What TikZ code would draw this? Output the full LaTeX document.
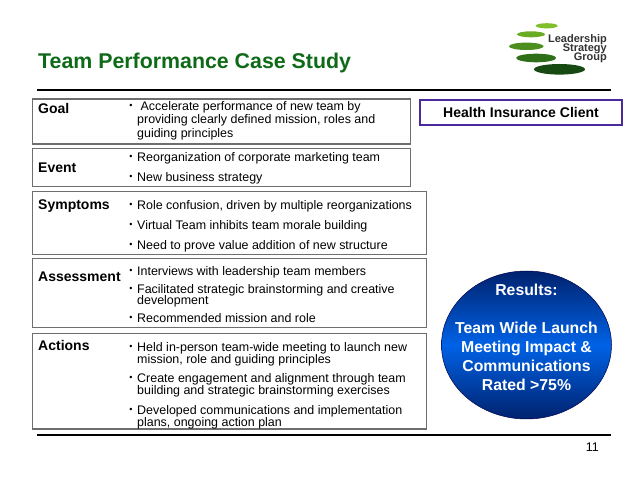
\documentclass[tikz,border=0pt]{standalone}
\usepackage{fontspec}
\setmainfont{Liberation Sans}
\usepackage{tikz}
\usetikzlibrary{positioning,shapes.geometric}
\definecolor{titlegreen}{HTML}{0F6A18}
\definecolor{panelgray}{HTML}{6E6E6E}
\definecolor{clientpurple}{HTML}{4A2A9C}
\definecolor{leafone}{HTML}{7FBF2A}
\definecolor{leaftwo}{HTML}{6AAB24}
\definecolor{leafthree}{HTML}{4C8F1E}
\definecolor{leaffour}{HTML}{2F6F18}
\definecolor{leaffive}{HTML}{174A12}
\definecolor{ovaldark}{HTML}{00226E}
\definecolor{ovalbright}{HTML}{0062E6}
\newcommand{\bul}{\llap{\raisebox{2.2pt}{\fontsize{9}{9}\selectfont\textbullet}\hspace{4.6pt}}}

\begin{document}
\begin{tikzpicture}[x=1pt, y=-1pt,
  panel/.style={draw=panelgray, line width=1.1pt, anchor=north west, inner sep=0pt},
  rulebar/.style={line width=2.7pt},
  heading/.style={anchor=base west, inner sep=0pt, font=\fontsize{14}{16}\selectfont\bfseries},
  itemtext/.style={anchor=base west, inner sep=0pt, align=left, font=\fontsize{12.45}{#1}\selectfont},
  itemtext/.default=13.3,
  leaf/.style={ellipse, inner sep=0pt, fill=#1}]
  \useasboundingbox (0,0) rectangle (638,478);

  \node (title) [anchor=base west, inner sep=0pt, text=titlegreen, font=\fontsize{21.35}{24}\selectfont\bfseries] at (38,68.5) {Team Performance Case Study};

  % logo
  \node (leafa) [leaf=leafone, minimum width=22pt, minimum height=5.2pt] at (546.7,25.8) {};
  \node (leafb) [leaf=leaftwo, minimum width=28pt, minimum height=6pt] at (531,34.3) {};
  \node (leafc) [leaf=leafthree, minimum width=34.6pt, minimum height=7.4pt] at (526.3,46.3) {};
  \node (leafd) [leaf=leaffour, minimum width=40pt, minimum height=8.6pt] at (536.2,58) {};
  \node (leafe) [leaf=leaffive, minimum width=51pt, minimum height=10.6pt] at (559.5,69.3) {};
  \node (logotext) [anchor=base east, inner sep=0pt, align=right, text=black!80, font=\fontsize{11}{9.2}\selectfont\bfseries] at (607,61) {Leadership\\[-1.5pt]Strategy\\[-1.5pt]Group};

  \coordinate (topl) at (37.3,90);
  \coordinate (topr) at (611,90);
  \coordinate (botl) at (37.3,435);
  \coordinate (botr) at (611,435);
  \draw[rulebar] (topl) -- (topr);
  \draw[rulebar] (botl) -- (botr);

  % panels
  \node (goalbox) [panel, minimum width=377.5pt, minimum height=45pt] at (32,98.5) {};
  \node (eventbox) [panel, minimum width=377.5pt, minimum height=38pt] at (32,148) {};
  \node (symptomsbox) [panel, minimum width=393.5pt, minimum height=63pt] at (32,191) {};
  \node (assessmentbox) [panel, minimum width=393.5pt, minimum height=69pt] at (32,258) {};
  \node (actionsbox) [panel, minimum width=393.5pt, minimum height=95.5pt] at (32,333) {};

  \node (goal) [heading] at (38,114) {Goal};
  \node (event) [heading] at (38,172.5) {Event};
  \node (symptoms) [heading] at (38,210) {Symptoms};
  \node (assessment) [heading] at (38,282) {Assessment};
  \node (actions) [heading] at (38,351) {Actions};

  \node (goala) [itemtext] at (137,137.2) {\bul\hspace{3.4pt}Accelerate performance of new team by\\providing clearly defined mission, roles and\\guiding principles};

  \node (eventa) [itemtext] at (137,161.5) {\bul Reorganization of corporate marketing team};
  \node (eventb) [itemtext] at (137,181.5) {\bul New business strategy};

  \node (sympa) [itemtext] at (137,209.5) {\bul Role confusion, driven by multiple reorganizations};
  \node (sympb) [itemtext] at (137,229.5) {\bul Virtual Team inhibits team morale building};
  \node (sympc) [itemtext] at (137,249.5) {\bul Need to prove value addition of new structure};

  \node (assessa) [itemtext] at (137,275.8) {\bul Interviews with leadership team members};
  \node (assessb) [itemtext=11] at (137,304.5) {\bul Facilitated strategic brainstorming and creative\\[-2pt]development};
  \node (assessc) [itemtext] at (137,322.5) {\bul Recommended mission and role};

  \node (actiona) [itemtext=12] at (137,363.5) {\bul Held in-person team-wide meeting to launch new\\mission, role and guiding principles};
  \node (actionb) [itemtext=12] at (137,395) {\bul Create engagement and alignment through team\\building and strategic brainstorming exercises};
  \node (actionc) [itemtext=12] at (137,427) {\bul Developed communications and implementation\\plans, ongoing action plan};

  % right column
  \node (client) [draw=clientpurple, line width=2pt, minimum width=202pt, minimum height=25pt, inner sep=0pt, font=\fontsize{14}{16}\selectfont\bfseries] at (521,112.5) {\raisebox{-1pt}{Health Insurance Client}};

  \node (resultsoval) [ellipse, draw=black!70!blue, line width=0.5pt, minimum width=170pt, minimum height=148pt, inner sep=0pt,
    top color=ovaldark, bottom color=ovaldark, middle color=ovalbright] at (526.5,345) {};
  \node (resultstext) [inner sep=0pt, align=center, text=white, font=\fontsize{15.8}{19}\selectfont\bfseries] at (526.5,337.2) {Results:\\[19pt]Team Wide Launch\\Meeting Impact \&\\Communications\\Rated >75\%};

  \node (pagenum) [anchor=base east, inner sep=0pt, font=\fontsize{12.5}{14}\selectfont] at (599,451.5) {11};
\end{tikzpicture}
\end{document}
